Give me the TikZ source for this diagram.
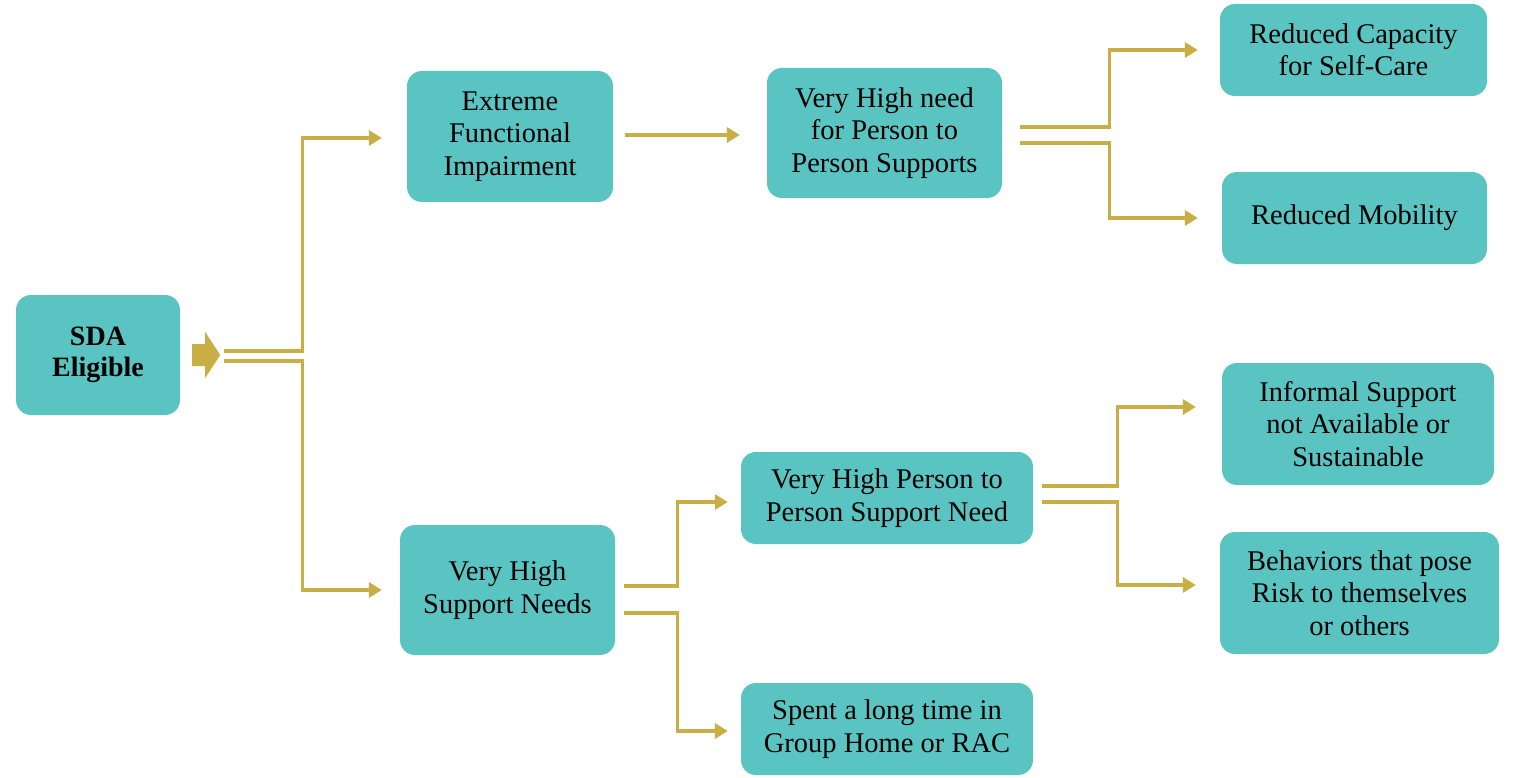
\documentclass[tikz,border=0pt]{standalone}
\usepackage{fontspec}
\setmainfont{Liberation Serif}
\usetikzlibrary{arrows.meta,calc}
\definecolor{teal}{HTML}{5AC4C2}
\definecolor{gold}{HTML}{C9AD45}
\tikzset{
  box/.style={fill=teal, draw=none, rounded corners=15pt, inner sep=0pt, align=center,
    font=\fontsize{28.5}{32.5}\selectfont, text=black},
  conn/.style={draw=gold, line width=3.2pt, -{Triangle[length=13pt,width=15pt]}},
}
\begin{document}
\begin{tikzpicture}[x=1pt,y=-1pt]
\useasboundingbox (0,0) rectangle (1536,778);
\fill[white] (0,0) rectangle (1536,778);

\node[box, minimum width=164pt, minimum height=120pt, font=\fontsize{28}{31}\selectfont\bfseries] (sda) at (98,355) {\raisebox{-4pt}{SDA}\\\raisebox{-4pt}{Eligible}};
\node[box, minimum width=206pt, minimum height=131pt] (efi) at (510,136.5) {Extreme\\Functional\\Impairment};
\node[box, minimum width=235pt, minimum height=130pt] (vhn) at (884.5,133) {Very High need\\for Person to\\Person Supports};
\node[box, minimum width=267pt, minimum height=92pt] (rcs) at (1353.5,50) {Reduced Capacity\\for Self-Care};
\node[box, minimum width=265pt, minimum height=92pt] (rm) at (1354.5,218) {Reduced Mobility};
\node[box, minimum width=215pt, minimum height=130pt] (vhsn) at (507.5,590) {Very High\\Support Needs};
\node[box, minimum width=292pt, minimum height=92pt] (vhpp) at (887,498) {Very High Person to\\Person Support Need};
\node[box, minimum width=272pt, minimum height=122pt] (isn) at (1358,424) {Informal Support\\not Available or\\Sustainable};
\node[box, minimum width=279pt, minimum height=122pt] (beh) at (1359.5,593) {Behaviors that pose\\Risk to themselves\\or others};
\node[box, minimum width=292pt, minimum height=92pt] (spent) at (887,729) {Spent a long time in\\Group Home or RAC};

% block arrow
\fill[gold] ($(sda.east)+(12,-11)$) -- ($(sda.east)+(25,-11)$) -- ($(sda.east)+(25,-23)$)
  -- ($(sda.east)+(40,0)$) -- ($(sda.east)+(25,23)$) -- ($(sda.east)+(25,11)$)
  -- ($(sda.east)+(12,11)$) -- cycle;

% connectors
\draw[conn] ($(sda.east)+(44,-4)$) -| ($(efi.west)+(-104,1.5)$) -- ($(efi.west)+(-25,1.5)$);
\draw[conn] ($(sda.east)+(44,6)$) -| ($(vhsn.west)+(-97,0)$) -- ($(vhsn.west)+(-18,0)$);

\draw[conn] ($(efi.east)+(12,-1.5)$) -- ($(efi.east -| vhn.west)+(-27,-1.5)$);

\draw[conn] ($(vhn.east)+(18,-6)$) -| ($(rcs.west)+(-110,0)$) -- ($(rcs.west)+(-22,0)$);
\draw[conn] ($(vhn.east)+(18,10)$) -| ($(rm.west)+(-112,0)$) -- ($(rm.west)+(-24,0)$);

\draw[conn] ($(vhsn.east)+(9,-4)$) -| ($(vhpp.west)+(-63,4)$) -- ($(vhpp.west)+(-13,4)$);
\draw[conn] ($(vhsn.east)+(9,23)$) -| ($(spent.west)+(-63,2)$) -- ($(spent.west)+(-13,2)$);

\draw[conn] ($(vhpp.east)+(9,-12)$) -| ($(isn.west)+(-104,-17)$) -- ($(isn.west)+(-26,-17)$);
\draw[conn] ($(vhpp.east)+(9,4)$) -| ($(beh.west)+(-102,-8)$) -- ($(beh.west)+(-24,-8)$);
\end{tikzpicture}
\end{document}
